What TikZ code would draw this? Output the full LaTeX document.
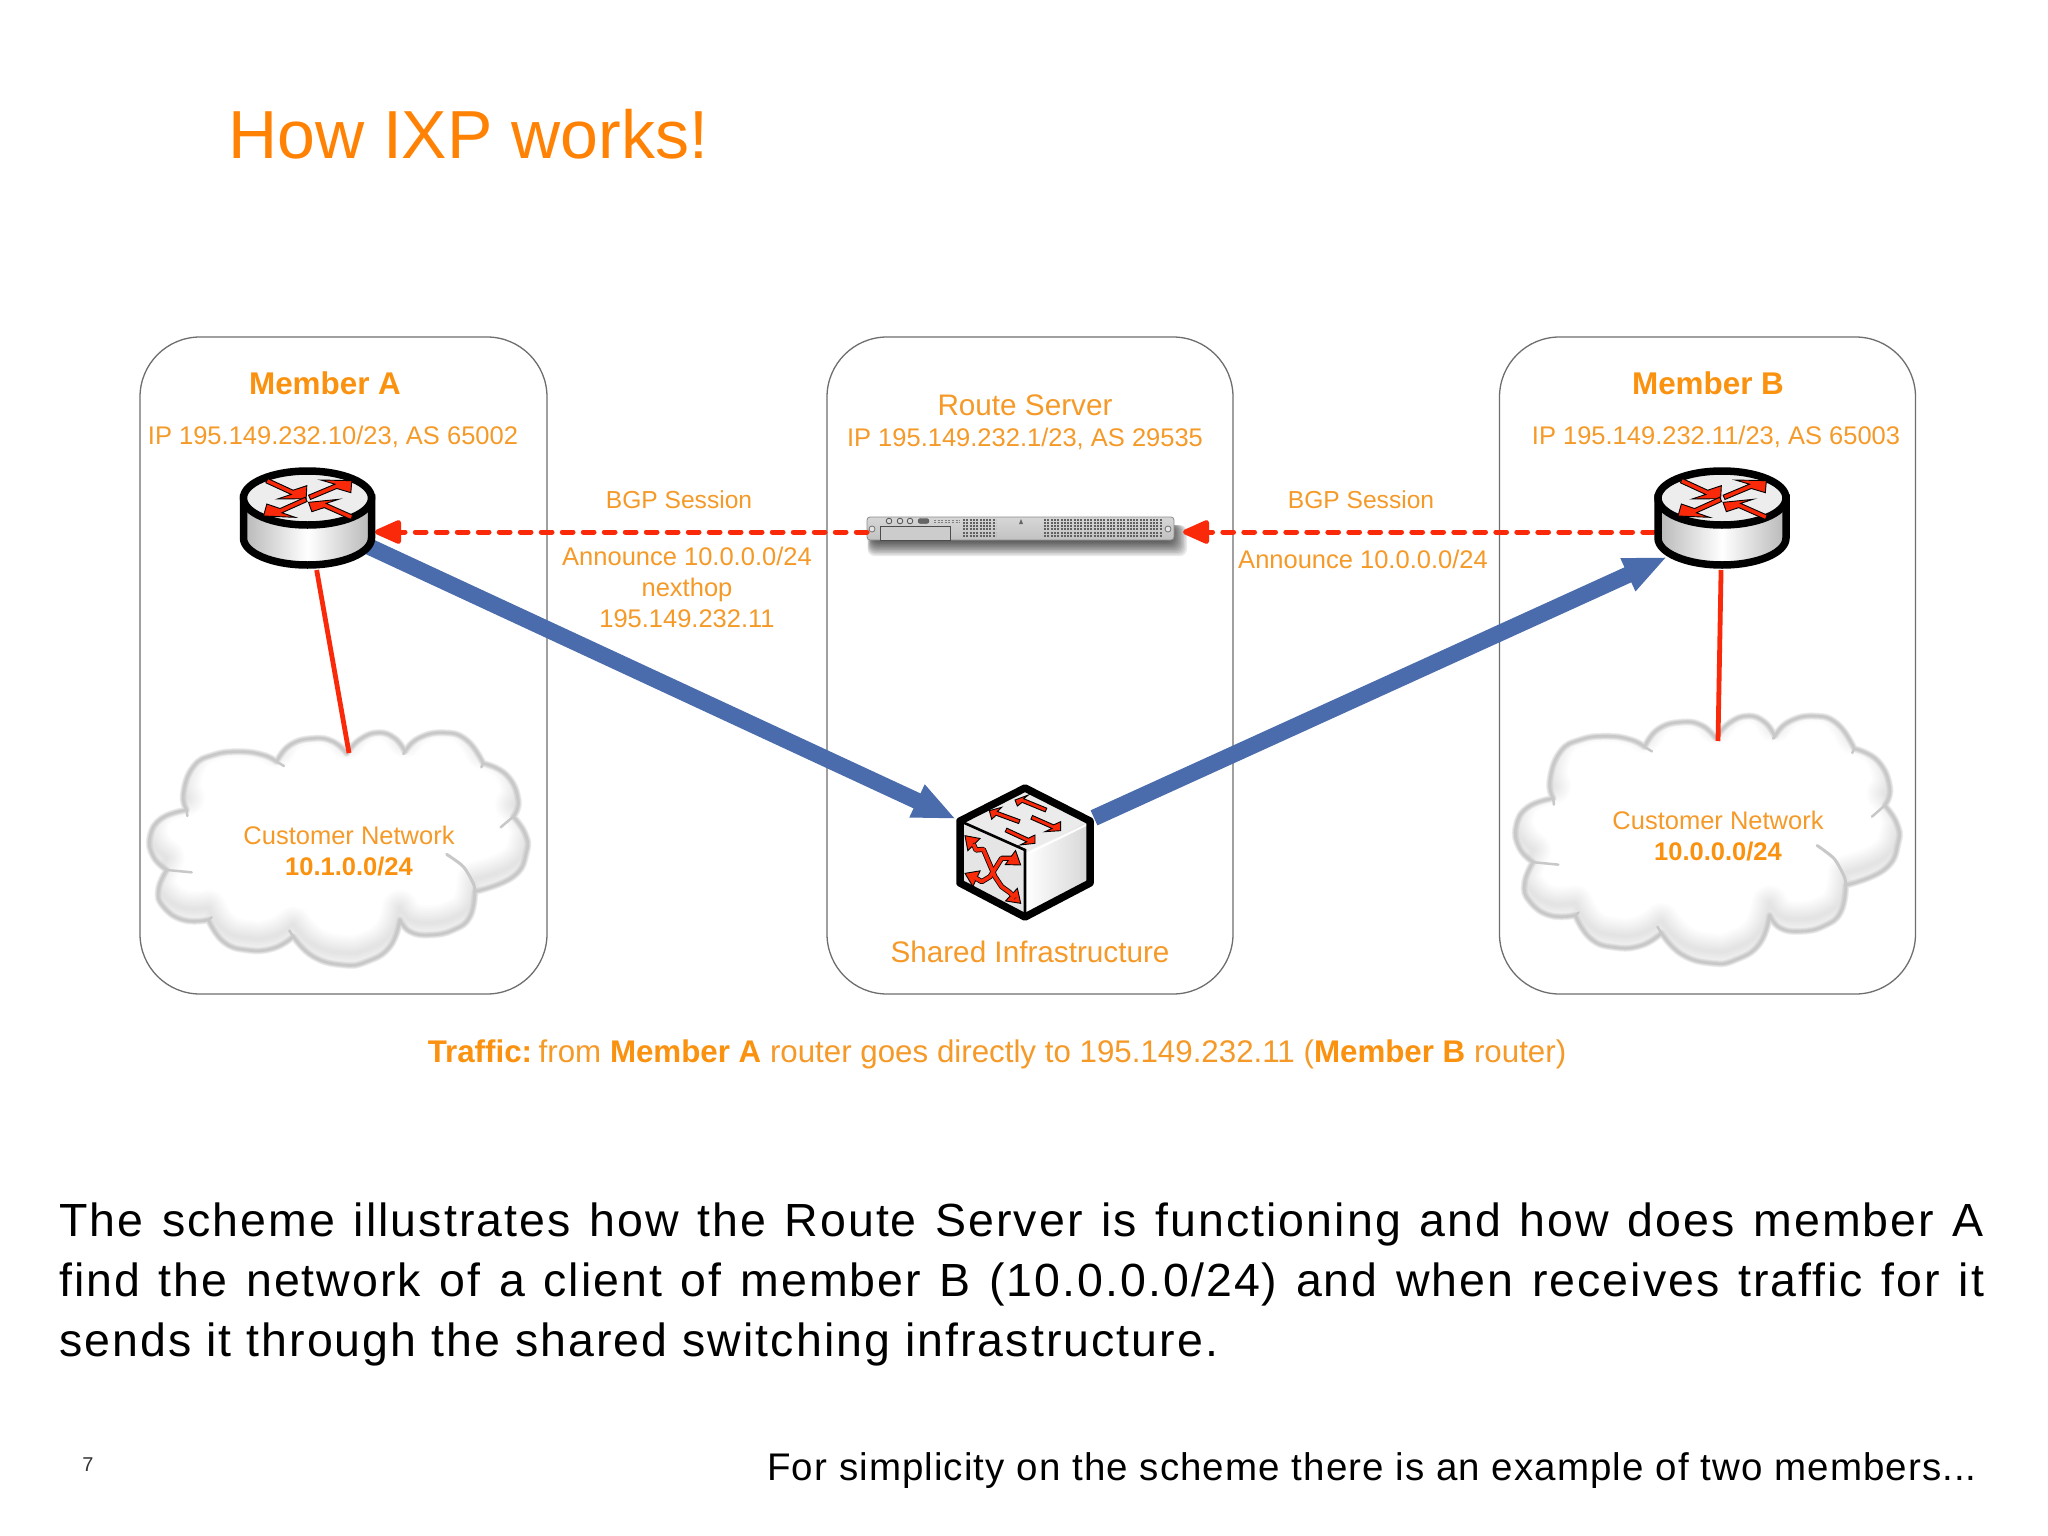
\documentclass[tikz,border=0pt]{standalone}
\usepackage{fontspec}
\setmainfont{Liberation Sans}
\usetikzlibrary{arrows.meta,calc,shapes.geometric}
\definecolor{titleorange}{HTML}{FF8205}
\definecolor{labelorange}{HTML}{F59A28}
\definecolor{boldorange}{HTML}{FA9210}
\definecolor{redline}{HTML}{F9290A}
\definecolor{blueline}{HTML}{4A6CAC}
\definecolor{boxgray}{HTML}{6E6E6E}
\definecolor{cloudgray}{HTML}{C8C8C8}
\tikzset{
 panel/.style={draw=boxgray,line width=1.3pt,rounded corners=60pt,fill=white,inner sep=0pt,outer sep=0pt},
 anchorbox/.style={inner sep=0pt,outer sep=0pt},
 lbl/.style={text=labelorange,font=\fontsize{25.5}{31}\selectfont,align=center,inner sep=0pt},
 lblsmall/.style={text=labelorange,font=\fontsize{24.6}{31}\selectfont,align=center,inner sep=0pt},
 lblbig/.style={text=labelorange,font=\fontsize{29.7}{36}\selectfont,align=center,inner sep=0pt},
 lblbold/.style={text=boldorange,font=\fontsize{31.4}{36}\selectfont\bfseries,align=center,inner sep=0pt},
 cloudlbl/.style={text=labelorange,font=\fontsize{25.5}{31}\selectfont,align=center,inner sep=0pt,outer sep=0pt},
 bgp/.style={draw=redline,line width=5pt,dash pattern=on 10.7pt off 10.3pt,line cap=round,-{Triangle[length=30pt,width=25pt,round=false]}},
 feed/.style={draw=redline,line width=4.8pt},
 flow/.style={draw=blueline,line width=16.5pt,-{Triangle[length=43pt,width=33pt]}},
 iconarrow/.style={fill=redline,draw=black,line width=.9pt,line join=miter},
 iconline/.style={line join=round},
}
% arrow polygon: x1 y1 x2 y2 shafthalf headlen headhalf (zoom units)
\newcommand\ra[7]{%
 \pgfmathsetmacro\rdx{#3-(#1)}\pgfmathsetmacro\rdy{#4-(#2)}%
 \pgfmathsetmacro\rl{veclen(\rdx,\rdy)}%
 \pgfmathsetmacro\rux{\rdx/\rl}\pgfmathsetmacro\ruy{\rdy/\rl}%
 \pgfmathsetmacro\rbx{#3-#6*\rux}\pgfmathsetmacro\rby{#4-#6*\ruy}%
 \filldraw[iconarrow] ({#1-#5*\ruy},{#2+#5*\rux}) -- ({\rbx-#5*\ruy},{\rby+#5*\rux}) -- ({\rbx-#7*\ruy},{\rby+#7*\rux}) -- (#3,#4) -- ({\rbx+#7*\ruy},{\rby-#7*\rux}) -- ({\rbx+#5*\ruy},{\rby-#5*\rux}) -- ({#1+#5*\ruy},{#2-#5*\rux}) -- cycle;%
}
% skewed arrow: tail, right-hand barb, tip, left-hand barb, shaft half
\newcommand\rb[9]{%
 \pgfmathsetmacro\rmx{(#3+#7)/2}\pgfmathsetmacro\rmy{(#4+#8)/2}%
 \pgfmathsetmacro\rdx{\rmx-(#1)}\pgfmathsetmacro\rdy{\rmy-(#2)}%
 \pgfmathsetmacro\rl{veclen(\rdx,\rdy)}%
 \pgfmathsetmacro\rux{\rdx/\rl}\pgfmathsetmacro\ruy{\rdy/\rl}%
 \filldraw[iconarrow] ({#1-#9*\ruy},{#2+#9*\rux}) -- ({\rmx-#9*\ruy},{\rmy+#9*\rux}) -- (#3,#4) -- (#5,#6) -- (#7,#8) -- ({\rmx+#9*\ruy},{\rmy-#9*\rux}) -- ({#1+#9*\ruy},{#2-#9*\rux}) -- cycle;%
}
\newcommand\routericon[1]{%
\begin{scope}[shift={#1}]
 \path[draw=black,line width=7.5pt,left color=black!28,right color=black!28,middle color=white]
   (-64,-20) -- (-64,20) .. controls (-64,35) and (-35,47) .. (0,47) .. controls (35,47) and (64,35) .. (64,20) -- (64,-20) -- cycle;
 \filldraw[fill=black!7,draw=black,line width=7.5pt] (0,-20) ellipse (64 and 27);
 \begin{scope}[scale=.3333]
  \rb{-122}{-112}{-90}{-57}{-4}{-58}{-2}{-97}{7}
  \rb{6}{-62}{130}{-76}{133}{-112}{40}{-114}{7}
  \rb{-4}{-56}{-122}{-42}{-132}{-6}{-37}{-2}{7}
  \rb{133}{-2}{93}{-56}{3}{-47}{13}{-19}{7}
 \end{scope}
\end{scope}}
\newcommand\switchicon[1]{%
\begin{scope}[shift={#1}]
 \filldraw[fill=black!8,draw=none] (-65,-32) -- (0,-65) -- (65,-32) -- (0,0) -- cycle;
 \path[left color=black!10,right color=black!10] (-65,-32) -- (0,0) -- (0,64) -- (-65,30) -- cycle;
 \path[left color=white,right color=black!16] (0,0) -- (65,-32) -- (65,30) -- (0,64) -- cycle;
 \draw[white,line width=2pt] (0,2) -- (63,-29);
 \draw[black,line width=2.6pt] (-65,-32) -- (0,-3) -- (0,64);
 \draw[black,line width=7.5pt,line join=round] (0,-65) -- (65,-32) -- (65,30) -- (0,64) -- (-65,30) -- (-65,-32) -- cycle;
 \begin{scope}[scale=.3333]
  \rb{63}{-129}{10}{-174}{-30}{-159}{-23}{-141}{6}
  \rb{-17}{-94}{-70}{-137}{-107}{-127}{-100}{-101}{6}
  \rb{20}{-107}{60}{-64}{107}{-67}{107}{-94}{6}
  \rb{-57}{-69}{-15}{-24}{30}{-29}{30}{-54}{6}
  \draw[black,iconline,line width=5.2pt] (-155,-27) -- (-147,-9) -- (-125,-11) -- (-90,71) -- (-70,101) -- (-45,119) -- (-30,135);
  \draw[black,iconline,line width=5.2pt] (-30,24) -- (-40,16) -- (-70,16) -- (-105,71) -- (-130,86) -- (-155,71) -- (-165,65);
  \ra{-155}{-27}{-180}{-52}{3}{38}{26}
  \ra{-30}{135}{-13}{151}{3}{38}{26}
  \ra{-35}{20}{-13}{36}{3}{38}{26}
  \ra{-150}{75}{-180}{61}{3}{38}{26}
  \draw[redline,iconline,line width=3.6pt] (-155,-27) -- (-147,-9) -- (-125,-11) -- (-90,71) -- (-70,101) -- (-45,119) -- (-30,135);
  \draw[redline,iconline,line width=3.6pt] (-30,24) -- (-40,16) -- (-70,16) -- (-105,71) -- (-130,86) -- (-155,71) -- (-165,65);
 \end{scope}
\end{scope}}
\newcommand\serverbody{%
 \foreach \d in {0,1.5,...,15}{
  \fill[black,opacity=.085,rounded corners=7pt] ({872-\d*.3},525) rectangle ({1172+\d},{541+\d});
 }
 \shade[top color=black!16,bottom color=black!24,rounded corners=3pt,draw=black!45,line width=.8pt] (867,517) rectangle (1174,540);
 \draw[black!70,line width=1pt,fill=black!20] (880,526) rectangle (950,540);
 \foreach \x in {872,1168}{\filldraw[fill=black!10,draw=black!55,line width=.8pt] (\x,529) circle (3pt);}
 \foreach \x in {889,900,910}{\filldraw[fill=black!15,draw=black!70,line width=.8pt] (\x,521) circle (2.8pt);}
 \filldraw[fill=black!60,draw=black!70,rounded corners=2.5pt] (918,518.5) rectangle (929,523.5);
 \foreach \y in {520.5,522.5}{\draw[black!50,line width=.9pt,dash pattern=on 2pt off 1.6pt] (934,\y) -- (960,\y);}
 \foreach \y in {519.5,522.8,526.1,529.4,532.7,536}{
  \draw[black!62,line width=2pt,dash pattern=on 2pt off 1.3pt] (963,\y) -- (996,\y);
  \draw[black!62,line width=2pt,dash pattern=on 2pt off 1.3pt] (1044,\y) -- (1162,\y);
 }
 \fill[black!60] (1019,524) -- (1021,519) -- (1023,524) -- cycle;
}
\newcommand\cloudoutline{%
 plot[smooth,tension=.8] coordinates {(650,100)(690,58)(745,38)(795,55)(825,95)}
 -- plot[smooth,tension=.8] coordinates {(825,95)(865,55)(940,38)(1010,60)(1060,130)}
 -- plot[smooth,tension=.8] coordinates {(1060,130)(1130,165)(1165,240)(1150,290)}
 -- plot[smooth,tension=.8] coordinates {(1150,290)(1185,340)(1190,395)(1150,470)(1035,515)}
 -- plot[smooth,tension=.8] coordinates {(1035,515)(1020,590)(970,630)(900,645)(840,635)(810,600)}
 -- plot[smooth,tension=.8] coordinates {(810,600)(780,680)(710,725)(640,735)(550,710)(490,650)}
 -- plot[smooth,tension=.8] coordinates {(490,650)(430,685)(350,690)(280,665)(235,600)}
 -- plot[smooth,tension=.8] coordinates {(235,600)(160,600)(100,560)(85,510)(110,450)}
 -- plot[smooth,tension=.8] coordinates {(110,450)(70,410)(60,350)(95,295)(170,270)}
 -- plot[smooth,tension=.8] coordinates {(170,270)(160,220)(190,140)(250,105)(330,95)(400,105)(440,125)}
 -- plot[smooth,tension=.8] coordinates {(440,125)(480,75)(550,55)(610,65)(650,100)}
 -- cycle}
\newcommand\cloudbody{%
 \fill[white] \cloudoutline;
 \begin{scope}
  \clip \cloudoutline;
  \begin{scope}[yshift=12pt]
   \foreach \w in {4,8,...,36}{
    \draw[black,opacity=.012,line width=\w pt,line join=round] \cloudoutline;
   }
  \end{scope}
 \end{scope}
 \foreach \w in {7,6,5,4}{
  \draw[cloudgray,opacity=.22,line width=\w pt,line join=round] \cloudoutline;
 }
 \draw[cloudgray,line width=2.6pt,line join=round] \cloudoutline;
 \draw[cloudgray,line width=3pt,line cap=round] plot[smooth] coordinates {(950,403)(1000,440)(1030,490)(1035,515)};
 \draw[cloudgray,line width=2.5pt,line cap=round] (1150,290) -- (1112,322);
 \draw[cloudgray,line width=2.5pt,line cap=round] (110,450) -- (185,457);
 \draw[cloudgray,line width=2.5pt,line cap=round] (440,125) -- (462,138);
 \draw[cloudgray,line width=2.5pt,line cap=round] (170,270) -- (172,288);
 \draw[cloudgray,line width=2.5pt,line cap=round] (825,95) -- (820,102);
 \draw[cloudgray,line width=2.5pt,line cap=round] (1060,130) -- (1054,142);
 \draw[cloudgray,line width=2.5pt,line cap=round] (810,600) -- (806,620);
 \draw[cloudgray,line width=2.5pt,line cap=round] (490,650) -- (478,632);
 \draw[cloudgray,line width=2.5pt,line cap=round] (235,600) -- (245,592);
}
\begin{document}
\begin{tikzpicture}[x=1pt,y=-1pt]
\useasboundingbox (0,0) rectangle (2048,1536);
\fill[white] (0,0) rectangle (2048,1536);

% panels
\node[panel,minimum width=407pt,minimum height=657pt] (panelA) at (343.5,665.5) {};
\node[panel,minimum width=406pt,minimum height=657pt] (panelS) at (1030,665.5) {};
\node[panel,minimum width=416pt,minimum height=657pt] (panelB) at (1707.5,665.5) {};

% clouds
\begin{scope}[shift={(130,720)},x=.3333pt,y=-.3333pt]\cloudbody\end{scope}
\begin{scope}[shift={(1495.7,702.5)},x=.3383pt,y=-.3548pt]\cloudbody\end{scope}

% anchor nodes
\node[anchorbox,minimum width=135pt,minimum height=104pt] (routerA) at (307.5,518) {};
\node[anchorbox,minimum width=137pt,minimum height=104pt] (routerB) at (1722,518) {};
\node[anchorbox,minimum width=316pt,minimum height=30pt] (server) at (1025,532) {};
\node[anchorbox,minimum width=138pt,minimum height=138pt] (switch) at (1025,853) {};
\node[cloudlbl,minimum height=196pt] (cloudA) at (349,851) {Customer Network\\{\bfseries\color{boldorange}10.1.0.0/24}};
\node[cloudlbl,minimum height=190pt] (cloudB) at (1718,836) {Customer Network\\{\bfseries\color{boldorange}10.0.0.0/24}};

% connectors
\draw[flow] (routerA.center) -- (switch.west |- 954,819);
\draw[flow] (switch.27) -- (1667,557);
\draw[feed] (routerA) -- (cloudA.north);
\draw[feed] (routerB) -- (cloudB.north);

% icons
\serverbody
\draw[bgp] (server.west) -- (routerA.east |- server.west);
\draw[bgp] (routerB.west |- server.east) -- (server.east);
\routericon{(routerA.center)}
\routericon{(routerB.center)}
\switchicon{(switch.center)}

% text
\node[anchor=base west,text=titleorange,font=\fontsize{68}{80}\selectfont,inner sep=0pt] (title) at (228,159) {How IXP works!};
\node[lblbold] (memberA) at (325,383) {Member A};
\node[lbl] (ipA) at (333,437) {IP 195.149.232.10/23, AS 65002};
\node[lblbig] (rs) at (1025,405.5) {Route Server};
\node[lbl] (ipS) at (1025,439) {IP 195.149.232.1/23, AS 29535};
\node[lblbold] (memberB) at (1708,383) {Member B};
\node[lbl] (ipB) at (1716,437) {IP 195.149.232.11/23, AS 65003};
\node[lblsmall] (bgpL) at (679,500) {BGP Session};
\node[lbl] (annL) at (687,587) {Announce 10.0.0.0/24\\nexthop\\195.149.232.11};
\node[lblsmall] (bgpR) at (1361,500) {BGP Session};
\node[lbl] (annR) at (1363,559) {Announce 10.0.0.0/24};
\node[lblbig] (shared) at (1030,952) {Shared Infrastructure};
\node[text=labelorange,font=\fontsize{31.3}{36}\selectfont,inner sep=0pt] (traffic) at (997,1054) {{\bfseries\color{boldorange}Traffic:}\hspace{-5pt} from {\bfseries\color{boldorange}Member A} router goes directly to 195.149.232.11 ({\bfseries\color{boldorange}Member B} router)};
\node[anchor=north west,text width=1925pt,align=justify,inner sep=0pt,font=\fontsize{46.5}{60}\selectfont\addfontfeature{LetterSpace=4.4},text=black] (para) at (59,1203) {The scheme illustrates how the Route Server is functioning and how does member A\linebreak find the network of a client of member B (10.0.0.0/24) and when receives traffic for it\linebreak sends it through the shared switching infrastructure.};
\node[anchor=base east,font=\fontsize{38.5}{44}\selectfont\addfontfeature{LetterSpace=2.8},inner sep=0pt] (note) at (1977,1480) {For simplicity on the scheme there is an example of two members...};
\node[font=\fontsize{20}{24}\selectfont,text=black!80,inner sep=0pt] (page) at (88,1465) {7};
\end{tikzpicture}
\end{document}
